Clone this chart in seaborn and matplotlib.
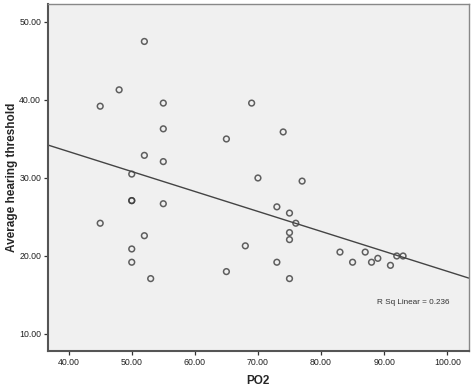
import matplotlib
matplotlib.use("Agg")
import matplotlib.pyplot as plt
import numpy as np
import pandas as pd
import seaborn as sns

# PO2 vs average hearing threshold
po2 = [52, 48, 45, 55, 55, 65, 52, 55, 50, 50, 50,
       55, 45, 52, 50, 50, 53, 65,
       69, 74, 70, 77,
       73, 75, 76, 75, 75, 68, 73, 75,
       83, 85, 87, 88, 89, 91, 92, 93]
threshold = [47.5, 41.3, 39.2, 39.6, 36.3, 35.0, 32.9, 32.1, 30.5, 27.1, 27.1,
             26.7, 24.2, 22.6, 20.9, 19.2, 17.1, 18.0,
             39.6, 35.9, 30.0, 29.6,
             26.3, 25.5, 24.2, 23.0, 22.1, 21.3, 19.2, 17.1,
             20.5, 19.2, 20.5, 19.2, 19.7, 18.8, 20.0, 20.0]

x_ticks = [40, 50, 60, 70, 80, 90, 100]
y_ticks = [10, 20, 30, 40, 50]
r_sq_label = "R Sq Linear = 0.236"

df = pd.DataFrame({"PO2": po2, "Average hearing threshold": threshold})

sns.set_style("ticks")
plt.rcParams["font.family"] = ["Liberation Sans", "DejaVu Sans"]

fig = plt.figure(figsize=(4.74, 3.9), dpi=100)
ax = fig.add_axes([0.1013, 0.1008, 0.8875, 0.8889])
ax.set_facecolor("#f0f0f0")
ax.set_xlim(36.73, 103.4)
ax.set_ylim(7.86, 52.3)

sns.regplot(data=df, x="PO2", y="Average hearing threshold", ax=ax,
            ci=None, truncate=False,
            scatter_kws={"s": 17, "facecolors": "none", "edgecolors": "#3a3a3a",
                         "linewidths": 1.1},
            line_kws={"color": "#444444", "linewidth": 1.0})

ax.set_xticks(x_ticks)
ax.set_yticks(y_ticks)
ax.set_xticklabels([f"{v:.2f}" for v in x_ticks])
ax.set_yticklabels([f"{v:.2f}" for v in y_ticks])
ax.tick_params(axis="both", labelsize=6.3, length=3, width=0.9,
               color="#333333", labelcolor="#222222", pad=2)

ax.set_xlabel("PO2", fontsize=8.5, fontweight="bold", labelpad=6)
ax.set_ylabel("Average hearing threshold", fontsize=8.5, fontweight="bold", labelpad=1)

for side in ("left", "bottom"):
    ax.spines[side].set_color("#555555")
    ax.spines[side].set_linewidth(1.5)
for side in ("top", "right"):
    ax.spines[side].set_visible(True)
    ax.spines[side].set_color("#888888")
    ax.spines[side].set_linewidth(1.0)

ax.text(94.6, 14.1, r_sq_label, fontsize=5.9, color="#333333",
        ha="center", va="center")

fig.savefig("out.png", dpi=100)
